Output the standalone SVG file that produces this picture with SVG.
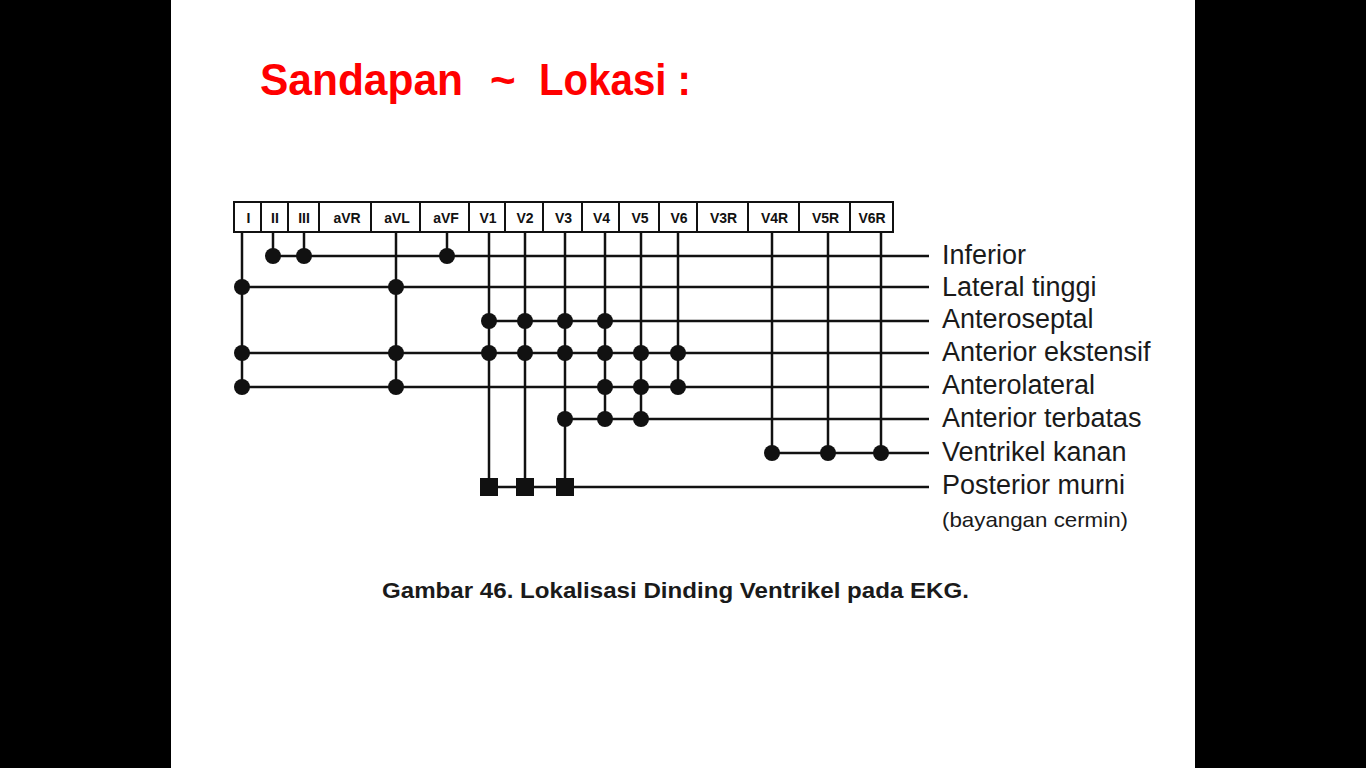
<svg xmlns="http://www.w3.org/2000/svg" width="1366" height="768" viewBox="0 0 1366 768">
<style>
.hdr{font-family:"Liberation Sans",Arial,sans-serif;font-weight:bold;font-size:14px;fill:#111;text-anchor:middle}
.cell{fill:#fff;stroke:#111;stroke-width:2}
.lbl{font-family:"Liberation Sans",Arial,sans-serif;font-size:27px;fill:#1a1a1a}
.sub{font-family:"Liberation Sans",Arial,sans-serif;font-size:21px;fill:#1a1a1a}
.ln{stroke:#111;stroke-width:2.5;fill:none}
.dot{fill:#111}
.title{font-family:"Liberation Sans",Arial,sans-serif;font-weight:bold;font-size:44px;fill:#ff0000}
.cap{font-family:"Liberation Sans",Arial,sans-serif;font-weight:bold;font-size:22px;fill:#1a1a1a}
</style>
<defs>
<circle id="d" r="8" class="dot"/>
<rect id="s" x="-9" y="-9" width="18" height="18" class="dot"/>
</defs>
<rect x="0" y="0" width="1366" height="768" fill="#000"/>
<rect x="171" y="0" width="1024" height="768" fill="#fff"/>

<g id="title">
<text class="title" x="260" y="95" textLength="203" lengthAdjust="spacingAndGlyphs">Sandapan</text>
<text class="title" x="490" y="95">~</text>
<text class="title" x="539" y="95" textLength="152" lengthAdjust="spacingAndGlyphs">Lokasi :</text>
</g>

<g id="connectors">
<line class="ln" x1="242" y1="232" x2="242" y2="387"/>
<line class="ln" x1="273" y1="232" x2="273" y2="256"/>
<line class="ln" x1="304" y1="232" x2="304" y2="256"/>
<line class="ln" x1="396" y1="232" x2="396" y2="387"/>
<line class="ln" x1="447" y1="232" x2="447" y2="256"/>
<line class="ln" x1="489" y1="232" x2="489" y2="487"/>
<line class="ln" x1="525" y1="232" x2="525" y2="487"/>
<line class="ln" x1="565" y1="232" x2="565" y2="487"/>
<line class="ln" x1="605" y1="232" x2="605" y2="419"/>
<line class="ln" x1="641" y1="232" x2="641" y2="419"/>
<line class="ln" x1="678" y1="232" x2="678" y2="387"/>
<line class="ln" x1="772" y1="232" x2="772" y2="453"/>
<line class="ln" x1="828" y1="232" x2="828" y2="453"/>
<line class="ln" x1="881" y1="232" x2="881" y2="453"/>
<line class="ln" x1="273" y1="256" x2="929" y2="256"/>
<line class="ln" x1="242" y1="287" x2="929" y2="287"/>
<line class="ln" x1="489" y1="321" x2="929" y2="321"/>
<line class="ln" x1="242" y1="353" x2="929" y2="353"/>
<line class="ln" x1="242" y1="387" x2="929" y2="387"/>
<line class="ln" x1="565" y1="419" x2="929" y2="419"/>
<line class="ln" x1="772" y1="453" x2="929" y2="453"/>
<line class="ln" x1="489" y1="487" x2="929" y2="487"/>
</g>

<g id="markers">
<use href="#d" x="273" y="256"/><use href="#d" x="304" y="256"/><use href="#d" x="447" y="256"/>
<use href="#d" x="242" y="287"/><use href="#d" x="396" y="287"/>
<use href="#d" x="489" y="321"/><use href="#d" x="525" y="321"/><use href="#d" x="565" y="321"/><use href="#d" x="605" y="321"/>
<use href="#d" x="242" y="353"/><use href="#d" x="396" y="353"/><use href="#d" x="489" y="353"/><use href="#d" x="525" y="353"/><use href="#d" x="565" y="353"/><use href="#d" x="605" y="353"/><use href="#d" x="641" y="353"/><use href="#d" x="678" y="353"/>
<use href="#d" x="242" y="387"/><use href="#d" x="396" y="387"/><use href="#d" x="605" y="387"/><use href="#d" x="641" y="387"/><use href="#d" x="678" y="387"/>
<use href="#d" x="565" y="419"/><use href="#d" x="605" y="419"/><use href="#d" x="641" y="419"/>
<use href="#d" x="772" y="453"/><use href="#d" x="828" y="453"/><use href="#d" x="881" y="453"/>
<use href="#s" x="489" y="487"/><use href="#s" x="525" y="487"/><use href="#s" x="565" y="487"/>
</g>

<g id="header">
<g id="lead-I"><rect class="cell" x="234" y="202" width="27" height="30"/><text class="hdr" x="248.5" y="223">I</text></g>
<g id="lead-II"><rect class="cell" x="261" y="202" width="27" height="30"/><text class="hdr" x="275" y="223">II</text></g>
<g id="lead-III"><rect class="cell" x="288" y="202" width="31" height="30"/><text class="hdr" x="304" y="223">III</text></g>
<g id="lead-aVR"><rect class="cell" x="319" y="202" width="52" height="30"/><text class="hdr" x="347" y="223">aVR</text></g>
<g id="lead-aVL"><rect class="cell" x="371" y="202" width="49" height="30"/><text class="hdr" x="397" y="223">aVL</text></g>
<g id="lead-aVF"><rect class="cell" x="420" y="202" width="49" height="30"/><text class="hdr" x="446" y="223">aVF</text></g>
<g id="lead-V1"><rect class="cell" x="469" y="202" width="36" height="30"/><text class="hdr" x="488" y="223">V1</text></g>
<g id="lead-V2"><rect class="cell" x="505" y="202" width="38" height="30"/><text class="hdr" x="525" y="223">V2</text></g>
<g id="lead-V3"><rect class="cell" x="543" y="202" width="39" height="30"/><text class="hdr" x="563.5" y="223">V3</text></g>
<g id="lead-V4"><rect class="cell" x="582" y="202" width="37" height="30"/><text class="hdr" x="601.5" y="223">V4</text></g>
<g id="lead-V5"><rect class="cell" x="619" y="202" width="40" height="30"/><text class="hdr" x="640" y="223">V5</text></g>
<g id="lead-V6"><rect class="cell" x="659" y="202" width="38" height="30"/><text class="hdr" x="679" y="223">V6</text></g>
<g id="lead-V3R"><rect class="cell" x="697" y="202" width="51" height="30"/><text class="hdr" x="723.5" y="223">V3R</text></g>
<g id="lead-V4R"><rect class="cell" x="748" y="202" width="51" height="30"/><text class="hdr" x="774.5" y="223">V4R</text></g>
<g id="lead-V5R"><rect class="cell" x="799" y="202" width="51" height="30"/><text class="hdr" x="825.5" y="223">V5R</text></g>
<g id="lead-V6R"><rect class="cell" x="850" y="202" width="43" height="30"/><text class="hdr" x="872" y="223">V6R</text></g>
</g>

<g id="labels">
<g id="loc-inferior"><text class="lbl" x="942" y="264">Inferior</text></g>
<g id="loc-lateral-tinggi"><text class="lbl" x="942" y="296">Lateral tinggi</text></g>
<g id="loc-anteroseptal"><text class="lbl" x="942" y="328">Anteroseptal</text></g>
<g id="loc-anterior-ekstensif"><text class="lbl" x="942" y="361">Anterior ekstensif</text></g>
<g id="loc-anterolateral"><text class="lbl" x="942" y="394">Anterolateral</text></g>
<g id="loc-anterior-terbatas"><text class="lbl" x="942" y="427">Anterior terbatas</text></g>
<g id="loc-ventrikel-kanan"><text class="lbl" x="942" y="461">Ventrikel kanan</text></g>
<g id="loc-posterior-murni"><text class="lbl" x="942" y="494">Posterior murni</text>
<text class="sub" x="942" y="527" textLength="186" lengthAdjust="spacingAndGlyphs">(bayangan cermin)</text></g>
</g>

<g id="caption"><text class="cap" x="382" y="598" textLength="587" lengthAdjust="spacingAndGlyphs">Gambar 46. Lokalisasi Dinding Ventrikel pada EKG.</text></g>
</svg>
